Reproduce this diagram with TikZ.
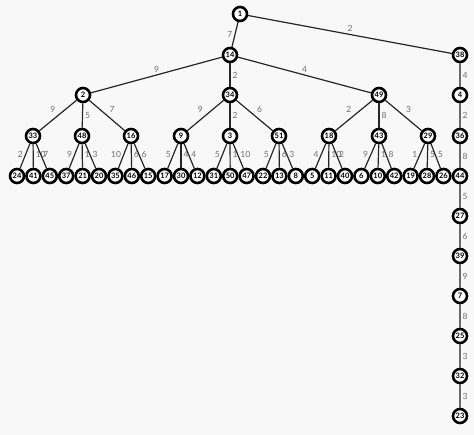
\documentclass[tikz,border=0pt]{standalone}
\usepackage{fontspec}
\setmainfont{Lato}
\usepackage{tikz}
\usetikzlibrary{positioning}
\definecolor{bggray}{HTML}{F8F8F8}
\definecolor{pathgray}{HTML}{6A6A6A}
\definecolor{labelgray}{HTML}{707070}

\begin{document}
\begin{tikzpicture}[
    x=1pt, y=-1pt,
    node distance=23.4pt,
    vertex/.style={circle, draw, line width=2.6pt, fill=white, minimum size=14pt, inner sep=0pt, font=\fontsize{7.5}{8}\selectfont\bfseries},
    branch/.style={line width=1.2pt, draw=black!85},
    pathlink/.style={line width=1.3pt, draw=pathgray},
    weight/.style={font=\fontsize{8.5}{9}\selectfont, text=labelgray, inner sep=2pt}
]
    \useasboundingbox[fill=bggray] (0,0) rectangle (474,435);

    % upper levels
    \node[vertex] (n1) at (240,14) {1};
    \node[vertex] (n14) at (230,55) {14};
    \node[vertex] (n38) at (460,55) {38};
    \node[vertex] (n2) at (83,95) {2};
    \node[vertex] (n34) at (230,95) {34};
    \node[vertex] (n49) at (379,95) {49};
    \node[vertex] (n4) at (460,95) {4};
    \node[vertex] (n33) at (33,136) {33};
    \node[vertex] (n48) at (82,136) {48};
    \node[vertex] (n16) at (131,136) {16};
    \node[vertex] (n9) at (181,136) {9};
    \node[vertex] (n3) at (230,136) {3};
    \node[vertex] (n51) at (279,136) {51};
    \node[vertex] (n18) at (329,136) {18};
    \node[vertex] (n43) at (379,136) {43};
    \node[vertex] (n29) at (428,136) {29};
    \node[vertex] (n36) at (460,136) {36};

    % leaf row
    \node[vertex] (n24) at (17,176) {24};
    \node[vertex] (n41) at (33.4,176) {41};
    \node[vertex] (n45) at (49.8,176) {45};
    \node[vertex] (n37) at (66.2,176) {37};
    \node[vertex] (n21) at (82.6,176) {21};
    \node[vertex] (n20) at (99,176) {20};
    \node[vertex] (n35) at (115.4,176) {35};
    \node[vertex] (n46) at (131.8,176) {46};
    \node[vertex] (n15) at (148.2,176) {15};
    \node[vertex] (n17) at (164.6,176) {17};
    \node[vertex] (n30) at (181,176) {30};
    \node[vertex] (n12) at (197.4,176) {12};
    \node[vertex] (n31) at (213.8,176) {31};
    \node[vertex] (n50) at (230.2,176) {50};
    \node[vertex] (n47) at (246.6,176) {47};
    \node[vertex] (n22) at (263,176) {22};
    \node[vertex] (n13) at (279.4,176) {13};
    \node[vertex] (n8) at (295.8,176) {8};
    \node[vertex] (n5) at (312.2,176) {5};
    \node[vertex] (n11) at (328.6,176) {11};
    \node[vertex] (n40) at (345,176) {40};
    \node[vertex] (n6) at (361.4,176) {6};
    \node[vertex] (n10) at (377.8,176) {10};
    \node[vertex] (n42) at (394.2,176) {42};
    \node[vertex] (n19) at (410.6,176) {19};
    \node[vertex] (n28) at (427,176) {28};
    \node[vertex] (n26) at (443.4,176) {26};
    \node[vertex] (n44) at (460,176) {44};

    % chain below 44
    \node[vertex] (n27) [below=of n44] {27};
    \node[vertex] (n39) [below=of n27] {39};
    \node[vertex] (n7) [below=of n39] {7};
    \node[vertex] (n25) [below=of n7] {25};
    \node[vertex] (n32) [below=of n25] {32};
    \node[vertex] (n23) [below=of n32] {23};

    \draw[branch] (n1) -- (n14) node[midway, left, weight] {7};
    \draw[branch] (n1) -- (n38) node[midway, above, weight] {2};
    \draw[branch] (n14) -- (n2) node[midway, above, weight] {9};
    \draw[branch] (n14) -- (n34) node[midway, right, weight] {2};
    \draw[branch] (n14) -- (n49) node[midway, above, weight] {4};
    \draw[branch] (n2) -- (n33) node[midway, above left, weight] {9};
    \draw[branch] (n2) -- (n48) node[midway, right, weight] {5};
    \draw[branch] (n2) -- (n16) node[midway, above right, weight] {7};
    \draw[branch] (n34) -- (n9) node[midway, above left, weight] {9};
    \draw[branch] (n34) -- (n3) node[midway, right, weight] {2};
    \draw[branch] (n34) -- (n51) node[midway, above right, weight] {6};
    \draw[branch] (n49) -- (n18) node[midway, above left, weight] {2};
    \draw[branch] (n49) -- (n43) node[midway, right, weight] {8};
    \draw[branch] (n49) -- (n29) node[midway, above right, weight] {3};

    \draw[branch] (n33) -- (n24) node[pos=0.45, left, weight] {2};
    \draw[branch] (n33) -- (n41) node[pos=0.45, right, weight] {10};
    \draw[branch] (n33) -- (n45) node[pos=0.45, right, weight] {7};
    \draw[branch] (n48) -- (n37) node[pos=0.45, left, weight] {9};
    \draw[branch] (n48) -- (n21) node[pos=0.45, right, weight] {1};
    \draw[branch] (n48) -- (n20) node[pos=0.45, right, weight] {3};
    \draw[branch] (n16) -- (n35) node[pos=0.45, left, weight] {10};
    \draw[branch] (n16) -- (n46) node[pos=0.45, right, weight] {6};
    \draw[branch] (n16) -- (n15) node[pos=0.45, right, weight] {6};
    \draw[branch] (n9) -- (n17) node[pos=0.45, left, weight] {5};
    \draw[branch] (n9) -- (n30) node[pos=0.45, right, weight] {4};
    \draw[branch] (n9) -- (n12) node[pos=0.45, right, weight] {4};
    \draw[branch] (n3) -- (n31) node[pos=0.45, left, weight] {5};
    \draw[branch] (n3) -- (n50) node[pos=0.45, right, weight] {1};
    \draw[branch] (n3) -- (n47) node[pos=0.45, right, weight] {10};
    \draw[branch] (n51) -- (n22) node[pos=0.45, left, weight] {5};
    \draw[branch] (n51) -- (n13) node[pos=0.45, right, weight] {6};
    \draw[branch] (n51) -- (n8) node[pos=0.45, right, weight] {3};
    \draw[branch] (n18) -- (n5) node[pos=0.45, left, weight] {4};
    \draw[branch] (n18) -- (n11) node[pos=0.45, right, weight] {10};
    \draw[branch] (n18) -- (n40) node[pos=0.45, right, weight] {2};
    \draw[branch] (n43) -- (n6) node[pos=0.45, left, weight] {9};
    \draw[branch] (n43) -- (n10) node[pos=0.45, right, weight] {1};
    \draw[branch] (n43) -- (n42) node[pos=0.45, right, weight] {8};
    \draw[branch] (n29) -- (n19) node[pos=0.45, left, weight] {1};
    \draw[branch] (n29) -- (n28) node[pos=0.45, right, weight] {5};
    \draw[branch] (n29) -- (n26) node[pos=0.45, right, weight] {5};

    % gray path on the right
    \draw[pathlink] (n38) -- (n4) node[midway, right, weight] {4};
    \draw[pathlink] (n4) -- (n36) node[midway, right, weight] {2};
    \draw[pathlink] (n36) -- (n44) node[midway, right, weight] {8};
    \draw[pathlink] (n44) -- (n27) node[midway, right, weight] {5};
    \draw[pathlink] (n27) -- (n39) node[midway, right, weight] {6};
    \draw[pathlink] (n39) -- (n7) node[midway, right, weight] {9};
    \draw[pathlink] (n7) -- (n25) node[midway, right, weight] {8};
    \draw[pathlink] (n25) -- (n32) node[midway, right, weight] {3};
    \draw[pathlink] (n32) -- (n23) node[midway, right, weight] {3};
\end{tikzpicture}
\end{document}
